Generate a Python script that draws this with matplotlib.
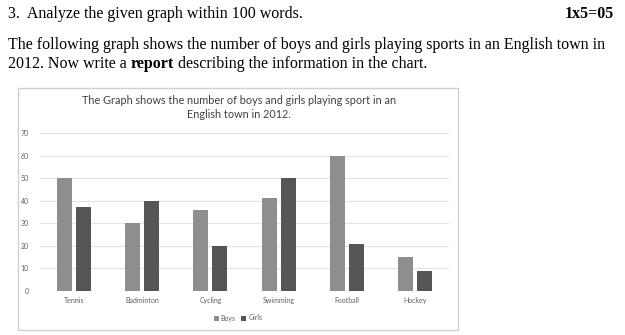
import matplotlib.pyplot as plt
import matplotlib.patches as patches
import numpy as np

sports = ["Tennis", "Badminton", "Cycling", "Swimming", "Football", "Hockey"]
boys = [50, 30, 36, 41, 60, 15]
girls = [37, 40, 20, 50, 21, 9]
yticks = [0, 10, 20, 30, 40, 50, 60, 70]

W, H = 625, 335
fig = plt.figure(figsize=(W / 100, H / 100), dpi=100)
renderer = fig.canvas.get_renderer()

# header text (question)
serif = "Liberation Serif"
fig.text(8 / W, 1 - 14 / H, "3.  Analyze the given graph within 100 words.",
         family=serif, fontsize=11.5, va="center")
fig.text(614 / W, 1 - 14 / H, "1x5=05", family=serif, fontsize=11.5,
         weight="bold", va="center", ha="right")
fig.text(8 / W, 1 - 45 / H,
         "The following graph shows the number of boys and girls playing sports in an English town in",
         family=serif, fontsize=11.5, va="center")
a = fig.text(8 / W, 1 - 64 / H, "2012. Now write a ", family=serif, fontsize=11.5, va="center")
bb = a.get_window_extent(renderer)
b = fig.text(bb.x1 / W, 1 - 64 / H, "report", family=serif, fontsize=11.5,
             weight="bold", va="center")
bb2 = b.get_window_extent(renderer)
fig.text(bb2.x1 / W, 1 - 64 / H, " describing the information in the chart.",
         family=serif, fontsize=11.5, va="center")

# chart box
fig.patches.append(patches.Rectangle((18 / W, 1 - 330 / H), 440 / W, 242 / H,
                                     transform=fig.transFigure, fill=False,
                                     edgecolor="#d0d0d0", linewidth=1))

sans = "Lato"
fig.text(239 / W, 1 - 101 / H,
         "The Graph shows the number of boys and girls playing sport in an",
         family=sans, fontsize=7.8, color="#404040", ha="center", va="center")
fig.text(239 / W, 1 - 115 / H, "English town in 2012.",
         family=sans, fontsize=7.8, color="#404040", ha="center", va="center")

ax = fig.add_axes([40 / W, (H - 291) / H, 409 / W, 158 / H])
x = np.arange(len(sports))
w = 0.22
ax.bar(x - 0.14, boys, w, color="#8e8e8e", label="Boys")
ax.bar(x + 0.14, girls, w, color="#555555", label="Girls")
ax.set_xlim(-0.5, 5.5)
ax.set_ylim(0, 70)
ax.set_yticks(yticks)
ax.set_xticks(x)
ax.set_xticklabels(sports)
for s in ax.spines.values():
    s.set_visible(False)
ax.grid(axis="y", color="#e3e3e3", linewidth=0.8)
ax.set_axisbelow(True)
ax.tick_params(length=0, labelsize=5, labelcolor="#606060", pad=4)
for lab in ax.get_xticklabels() + ax.get_yticklabels():
    lab.set_family(sans)
ax.tick_params(axis="y", pad=8)

fig.legend(loc="center", bbox_to_anchor=(238 / W, 1 - 318 / H), ncol=2, frameon=False,
           prop={"family": sans, "size": 5}, labelcolor="#606060",
           handlelength=0.7, handleheight=0.7, handletextpad=0.3, columnspacing=0.8)

fig.savefig("out.png", dpi=100)
